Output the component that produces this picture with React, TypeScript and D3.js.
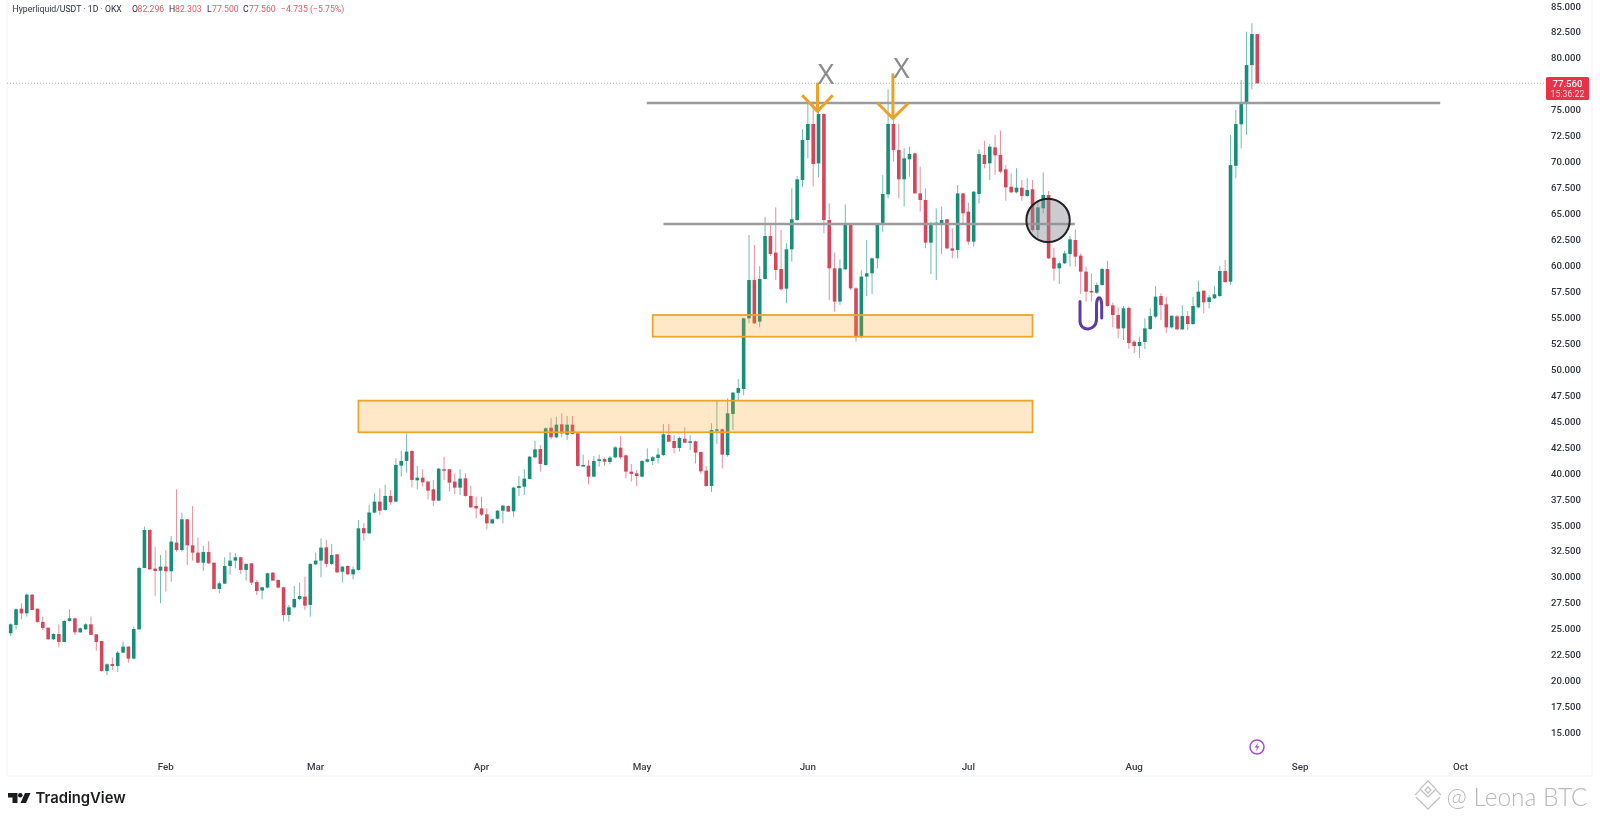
import React from "react";
import * as d3 from "d3";

const opens = [
24.57,25.37,26.94,26.49,28.29,26.94,25.66,25.11,23.99,24.50,
23.73,25.75,26.01,24.66,24.95,25.43,24.47,23.83,20.94,21.61,
21.42,22.70,23.28,22.13,24.95,30.86,34.52,30.80,30.60,30.99,
30.54,33.30,32.59,35.55,33.04,32.34,31.37,32.40,31.37,28.84,
29.35,31.05,31.57,31.89,30.67,31.31,29.51,28.68,28.97,30.41,
29.70,29.00,26.33,27.07,27.87,28.10,27.30,31.21,31.57,32.85,
31.25,32.18,30.50,31.05,30.25,30.67,34.70,34.20,36.19,37.25,
36.45,37.80,37.25,40.72,41.17,42.13,39.30,39.56,39.18,38.44,
37.35,40.37,40.37,39.18,38.60,39.50,37.80,36.83,36.60,36.03,
35.16,35.61,36.38,36.83,36.32,38.57,38.69,39.43,41.52,42.32,
40.78,44.38,43.45,44.70,43.70,44.67,43.83,40.69,40.72,39.66,
41.17,41.36,41.07,41.52,42.45,41.71,40.14,39.98,39.66,41.10,
41.17,41.46,41.74,43.67,43.09,42.42,43.32,42.97,43.06,42.03,
40.24,38.76,44.15,44.22,41.74,45.70,47.73,48.10,54.91,58.60,
54.59,58.70,62.84,61.24,59.66,57.77,61.56,64.38,68.24,72.09,
73.63,69.84,74.59,64.38,59.73,56.52,59.63,63.90,57.80,53.21,
58.93,59.25,60.69,63.90,66.86,73.63,71.13,68.30,70.23,70.80,
66.95,66.31,62.20,63.93,63.90,64.45,61.65,61.49,66.95,65.19,
62.30,66.89,70.65,69.84,71.38,70.65,69.26,67.59,67.05,67.50,
66.70,67.34,63.42,65.51,66.79,60.76,59.73,60.21,61.11,62.46,
60.95,59.41,57.55,57.38,58.12,59.66,56.16,55.23,53.95,55.91,
52.66,52.24,52.63,53.88,55.07,57.06,56.26,54.04,55.10,53.85,
55.13,54.36,55.97,57.57,56.48,56.84,57.06,59.47,58.44,69.61,
73.60,75.55,79.31,82.296];

const highs = [
25.53,26.97,27.46,28.42,28.35,26.94,26.17,25.11,24.57,25.43,
25.85,26.88,26.08,25.14,25.53,26.17,24.47,23.83,21.68,22.25,
22.86,23.76,23.35,25.21,30.99,34.84,34.58,32.92,32.11,32.59,
33.94,38.44,36.19,35.55,36.83,33.81,32.98,33.43,31.37,29.54,
31.89,32.37,32.27,31.95,31.31,31.31,29.70,29.06,30.41,30.47,
29.77,29.06,27.30,29.13,29.45,30.03,31.31,32.34,33.72,33.56,
33.17,32.21,31.05,31.12,30.99,35.48,35.20,36.93,38.05,38.53,
38.86,38.37,41.42,42.16,43.83,42.20,40.69,40.36,39.25,39.34,
40.50,41.58,40.43,39.98,40.37,39.98,38.76,37.73,37.73,36.61,
35.64,36.45,36.93,36.90,38.69,39.72,40.37,41.65,43.13,42.71,
44.41,45.28,45.44,45.76,45.50,45.50,43.83,41.78,41.26,41.65,
41.78,41.52,41.65,42.61,43.58,41.78,40.88,40.30,41.23,42.39,
41.65,42.39,44.73,44.73,43.67,43.51,44.41,43.67,43.13,42.10,
40.69,44.80,47.04,44.28,47.20,47.81,49.06,54.97,62.94,61.97,
59.95,64.70,63.90,65.60,63.42,62.14,67.43,68.62,73.12,75.62,
75.79,75.94,74.66,65.99,61.24,60.60,65.90,64.00,57.90,59.57,
62.46,60.79,64.06,68.72,76.97,76.97,73.63,71.29,71.45,70.87,
69.52,67.43,64.22,65.50,65.67,64.51,63.58,67.76,66.97,66.05,
67.18,71.19,72.03,71.70,72.57,72.99,69.68,68.88,69.36,68.24,
68.40,68.24,66.31,68.98,67.18,61.72,60.37,61.43,62.84,63.48,
61.17,59.89,59.25,58.35,59.79,60.47,56.42,55.97,56.10,56.03,
52.80,53.14,54.91,55.87,58.02,57.32,56.99,55.16,55.23,56.19,
55.61,56.99,58.54,57.62,57.16,58.02,59.95,60.53,72.57,74.98,
77.87,82.52,83.33,82.303];

const lows = [
24.31,24.95,25.92,26.17,26.81,25.59,24.89,23.92,23.92,23.22,
23.73,25.69,24.41,24.63,24.89,24.37,22.90,20.87,20.55,21.03,
20.87,22.64,21.74,22.06,24.89,30.83,30.67,28.16,27.46,28.58,
29.54,32.43,32.43,31.15,31.57,31.31,30.60,31.25,28.84,28.42,
29.32,30.19,30.83,30.28,29.64,29.22,28.26,27.84,28.90,29.64,
28.90,25.69,25.69,26.97,27.78,26.81,26.17,31.15,29.96,30.92,
31.15,30.35,29.45,30.19,29.77,30.60,33.50,34.10,36.13,35.97,
36.38,36.93,37.19,39.66,40.04,38.63,38.44,38.69,37.47,36.83,
37.28,39.34,38.21,37.99,37.89,37.73,36.61,35.64,35.87,34.58,
35.10,35.55,35.16,36.25,35.80,37.80,37.89,39.40,41.42,40.14,
40.72,43.25,43.35,43.45,43.19,43.70,40.62,40.62,38.92,39.59,
40.62,40.69,40.85,41.42,41.33,39.50,39.18,38.76,39.59,41.01,
40.78,40.94,41.65,42.97,41.91,42.07,42.87,42.23,40.94,39.92,
38.69,38.18,42.80,40.46,41.58,44.15,46.95,47.50,54.43,54.37,
54.04,58.67,60.92,58.60,57.58,56.36,60.37,64.32,67.53,70.32,
67.60,68.49,63.10,56.68,55.55,56.20,59.57,57.64,52.66,52.98,
57.06,57.26,59.73,63.26,66.47,70.00,66.47,65.67,68.56,66.89,
65.19,61.66,59.18,58.60,61.11,61.56,60.69,60.69,64.06,61.98,
61.81,65.99,69.36,68.24,68.72,68.88,66.24,66.95,66.95,66.24,
66.63,63.26,62.62,65.03,60.63,58.54,58.22,60.14,59.89,59.89,
57.25,56.52,56.52,57.25,58.06,56.03,54.04,52.98,52.82,51.96,
51.57,51.09,51.96,53.78,54.91,54.75,53.53,53.94,53.78,53.78,
53.78,54.27,55.87,55.39,55.87,56.77,56.99,58.34,58.12,68.40,
71.28,72.57,76.97,77.50];

const closes = [
25.43,26.88,26.49,28.29,26.81,25.66,25.08,23.99,24.50,23.73,
25.75,26.01,24.66,25.05,25.43,24.41,23.73,20.94,21.58,21.42,
22.70,23.28,22.13,24.98,30.86,34.52,30.73,30.57,30.99,30.54,
33.40,32.59,35.55,33.04,32.34,31.37,32.40,31.31,28.84,29.38,
31.05,31.57,31.89,30.67,31.25,29.45,28.64,29.00,30.35,29.64,
28.97,26.33,27.07,27.87,28.16,27.23,31.25,31.57,32.82,31.25,
32.11,30.44,30.99,30.25,30.73,34.68,34.20,36.20,37.25,36.38,
37.80,37.19,40.78,41.17,42.07,39.34,39.56,39.11,38.31,37.35,
40.43,40.30,39.08,38.60,39.47,37.80,36.70,36.60,36.00,35.16,
35.55,36.38,36.86,36.29,38.60,38.76,39.47,41.58,42.29,40.88,
44.31,43.45,44.67,43.83,44.67,43.77,40.69,40.78,39.66,41.17,
41.33,41.10,41.49,42.48,41.52,40.14,39.92,39.72,41.17,41.33,
41.52,41.78,43.74,43.03,42.42,43.38,42.93,43.06,41.97,40.17,
38.76,44.15,44.22,41.78,45.76,47.75,48.20,54.91,58.60,54.43,
58.70,62.84,61.11,59.57,57.71,61.56,64.45,68.30,72.09,73.63,
69.78,74.59,64.38,59.73,56.52,59.73,63.90,57.80,53.21,58.93,
59.25,60.69,63.98,66.89,73.63,71.13,68.30,70.32,70.74,66.95,
66.31,62.20,64.06,64.13,64.38,61.65,61.43,66.95,65.03,62.30,
67.11,70.74,69.78,71.45,70.61,69.04,67.53,67.05,67.50,66.70,
67.27,63.42,65.60,66.79,60.69,59.70,60.21,61.17,62.52,60.85,
59.41,57.48,57.45,58.12,59.66,56.10,55.23,53.92,55.87,52.53,
52.24,52.63,53.94,55.13,57.00,56.19,54.04,55.16,53.85,55.13,
54.36,56.10,57.48,56.45,56.93,57.22,59.47,58.41,69.68,73.63,
75.62,79.31,82.30,77.56];

const priceTicks = [85,82.5,80,77.5,75,72.5,70,67.5,65,62.5,60,57.5,55,52.5,50,47.5,45,42.5,40,37.5,35,32.5,30,27.5,25,22.5,20,17.5,15].filter(p => p !== 77.5);
const monthNames = ["Feb","Mar","Apr","May","Jun","Jul","Aug","Sep","Oct"];
const monthIndex = [29,57,88,118,149,179,210,241,271];
const lastPrice = 77.56;
const lastPriceLabel = "77.560";
const countdownLabel = "15:36:22";

const zoneStart = [65,120];
const zoneEnd = [191,191];
const zoneTop = [46.98,55.23];
const zoneBottom = [43.93,53.14];

const levelStart = [118.9,122];
const levelEnd = [267.2,198.9];
const levelPrice = [75.65,64.0];

const arrowIndex = [150.8,164.9];
const arrowTop = [77.6,78.5];
const arrowTip = [74.85,74.18];
const arrowArm = [76.4,75.63];
const crossIndex = [152.4,166.5];
const crossPrice = [78.5,79.1];

const GREEN = "#178f78";
const RED = "#d5465a";
const AXIS = "#2f3340";
const ORANGE = "#eda126";

const x = d3.scaleLinear().domain([0,233]).range([10.7,10.7+5.35*233]);
const y = d3.scaleLinear().domain([85,15]).range([6,732.6]);
const line = d3.line();

const headerPieces = [
  { t: "Hyperliquid/USDT · 1D · OKX", x: 12.5, c: AXIS },
  { t: "O", x: 132, c: AXIS }, { t: "82.296", x: 137.5, c: "#d9606a" },
  { t: "H", x: 169, c: AXIS }, { t: "82.303", x: 175, c: "#d9606a" },
  { t: "L", x: 207, c: AXIS }, { t: "77.500", x: 212, c: "#d9606a" },
  { t: "C", x: 243, c: AXIS }, { t: "77.560", x: 249, c: "#d9606a" },
  { t: "−4.735 (−5.75%)", x: 281, c: "#d9606a" },
];

export default function App() {
  return (
    <svg width={1600} height={820} style={{ position: "absolute", left: 0, top: 0, display: "block", background: "#fff", filter: "blur(0.35px)" }} fontFamily="Roboto, sans-serif">
      <line x1={7} y1={0} x2={7} y2={776} stroke="#f1f2f4" />
      <line x1={7} y1={776} x2={1592} y2={776} stroke="#f1f2f4" />
      <line x1={1592} y1={0} x2={1592} y2={776} stroke="#f1f2f4" />

      <path d={line([[7,y(lastPrice)],[1546,y(lastPrice)]])!} stroke="#c9a3a8" strokeWidth={1} strokeDasharray="1 2" fill="none" />

      {opens.map((o,i) => {
        const c = closes[i];
        const col = c >= o ? GREEN : RED;
        const top = y(Math.max(o,c));
        const bot = y(Math.min(o,c));
        return (
          <g key={i}>
            <line x1={x(i)} x2={x(i)} y1={y(highs[i])} y2={y(lows[i])} stroke={col} strokeWidth={1} strokeOpacity={0.6} />
            <rect x={x(i)-1.8} width={3.6} y={top} height={Math.max(bot-top,1.5)} fill={col} />
          </g>
        );
      })}

      {zoneStart.map((s,i) => (
        <rect key={i} x={x(s)} y={y(zoneTop[i])} width={x(zoneEnd[i])-x(s)} height={y(zoneBottom[i])-y(zoneTop[i])}
          fill="#fb9f1a" fillOpacity={0.24} stroke="#e9a62e" strokeWidth={1.8} />
      ))}

      {levelStart.map((s,i) => (
        <path key={i} d={line([[x(s),y(levelPrice[i])],[x(levelEnd[i]),y(levelPrice[i])]])!} stroke="#9c9c9e" strokeWidth={2.6} fill="none" />
      ))}

      <circle cx={x(193.9)} cy={y(64.35)} r={21.7} fill="#8d8f96" fillOpacity={0.45} stroke="#1f2024" strokeWidth={2} />

      {arrowIndex.map((a,i) => (
        <g key={i} stroke={ORANGE} strokeWidth={3} fill="none" strokeLinejoin="miter">
          <path d={line([[x(a),y(arrowTop[i])],[x(a),y(arrowTip[i])]])!} />
          <path d={line([[x(a-2.85),y(arrowArm[i])],[x(a),y(arrowTip[i])],[x(a+2.85),y(arrowArm[i])]])!} />
        </g>
      ))}
      {crossIndex.map((a,i) => (
        <text key={i} x={x(a)} y={y(crossPrice[i])} textAnchor="middle" dominantBaseline="central" fontFamily="'Noto Sans', sans-serif" fontSize={28} fill="#8c8c8c">X</text>
      ))}

      <path d="M1080 301.5 L1080 321 C1080 332 1096.5 332 1096.5 319 L1096.5 306 C1096.5 295 1101.7 295 1101.7 306 L1101.7 318"
        fill="none" stroke="#5a3ea1" strokeWidth={3} strokeLinecap="round" />

      {headerPieces.map((p,i) => (
        <text key={i} x={p.x} y={12.4} fontSize={8.7} fill={p.c}>{p.t}</text>
      ))}

      {priceTicks.map(p => (
        <text key={p} x={1566} y={y(p)} textAnchor="middle" dominantBaseline="central" fontSize={9.6} fontWeight={500} fill={AXIS}>{d3.format(".3f")(p)}</text>
      ))}

      {monthNames.map((m,i) => (
        <text key={m} x={x(monthIndex[i])} y={766} textAnchor="middle" dominantBaseline="central" fontSize={9.8} fontWeight={500} fill="#3a3e4a">{m}</text>
      ))}

      <rect x={1546} y={77} width={43} height={23} rx={1.5} fill="#e8324a" />
      <text x={1567.5} y={y(lastPrice)} textAnchor="middle" dominantBaseline="central" fontSize={9.6} fontWeight={500} fill="#fff">{lastPriceLabel}</text>
      <text x={1567.5} y={94} textAnchor="middle" dominantBaseline="central" fontSize={8.8} fill="#ffd5da">{countdownLabel}</text>

      <circle cx={1257} cy={747} r={7} strokeWidth={1.5} stroke="#a64fc4" fill="none" />
      <path d="M1258.2 742.5 L1254.6 747.6 L1257 747.6 L1255.8 751.5 L1259.4 746.3 L1257 746.3 Z" fill="#a64fc4" />

      <g fill="#1b1c20">
        <path d="M8 793 H17.5 V803 H12.5 V797.5 H8 Z" />
        <circle cx={20.3} cy={795.3} r={2.3} />
        <path d="M25 793 H30.5 L26 803 H20.5 Z" />
      </g>
      <text x={35.5} y={803.2} fontFamily="Inter, sans-serif" fontWeight={600} fontSize={14.8} fill="#1b1c20">TradingView</text>

      <g stroke="#c4c4c4" fill="none" strokeWidth={1.3}>
        <path d="M1428 781 L1436 789 L1428 797 L1420 789 Z" />
        <path d="M1428 787 L1431 790 L1428 793 L1425 790 Z" />
        <path d="M1415 795 L1420 790 M1441 795 L1436 790 M1416 797 L1428 809 L1440 797" />
      </g>
      <text x={1446.5} y={806} fontFamily="Lato, sans-serif" fontWeight={300} fontSize={24.5} fill="#b9b9b9">@ Leona BTC</text>
    </svg>
  );
}
